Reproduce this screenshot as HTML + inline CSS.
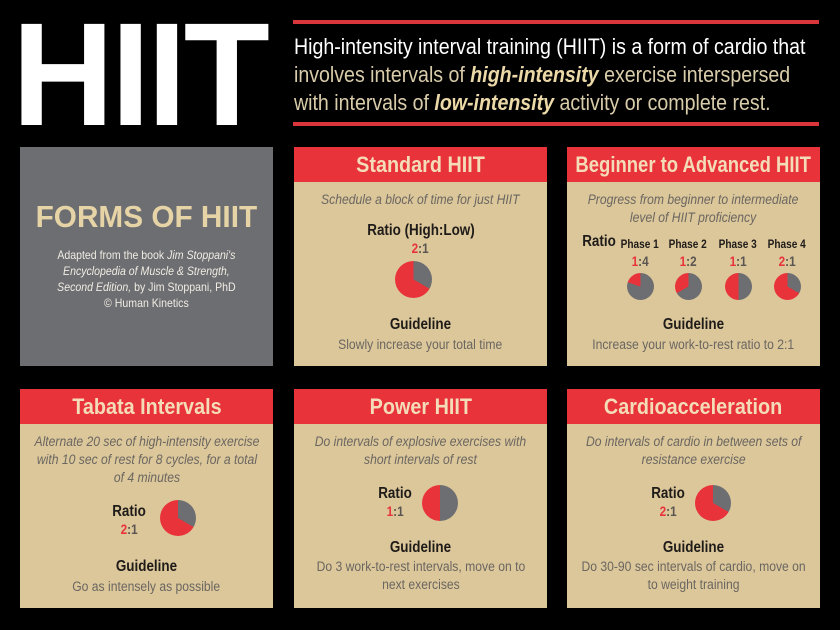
<!DOCTYPE html>
<html><head><meta charset="utf-8"><style>
body{margin:0;background:#000;width:840px;height:630px;overflow:hidden;position:relative;font-family:"Liberation Sans",sans-serif}
.a{position:absolute}
.n{display:inline-block;transform:scaleX(.84);white-space:nowrap}
.w{display:inline-block;transform:scaleX(.9);white-space:nowrap}
.big{left:12px;top:2px;font-size:147px;font-weight:bold;color:#fff;transform:scaleX(.96);transform-origin:left top;line-height:147px;white-space:nowrap;letter-spacing:-3px}
.rl{left:293px;width:526px;height:4px;background:#d8363b}
.intro{left:294px;top:33px;font-size:22px;line-height:28px;color:#d9ccaa;white-space:nowrap;transform:scaleX(.89);transform-origin:left top}
.intro b{font-style:italic;color:#ecd9a8}
.p{position:absolute;width:253px;height:219px;background:#dcc79b;text-align:center;color:#222}
.h{height:35px;background:#e8333a;color:#f4dcb8;font-weight:bold;font-size:22px;line-height:35px;display:flex;justify-content:center;white-space:nowrap}
.h .n{transform:scaleX(.9);flex:none}
.d{font-style:italic;color:#6a6660;font-size:13.5px;line-height:18px}
.g{color:#6a6660;font-size:13.5px;line-height:18px}
.lab{font-size:16px;font-weight:bold;color:#1e1b18}
.r{color:#e8333a}
.pie{position:absolute;border-radius:50%}
.ph{position:absolute;font-size:12px;font-weight:bold;color:#1e1b18;width:50px;text-align:center}
.pr{position:absolute;font-size:14px;color:#5a5550;width:50px;text-align:center;font-weight:bold}
</style></head><body>
<div class="a big">HIIT</div>
<div class="a rl" style="top:20px"></div>
<div class="a rl" style="top:122px"></div>
<div class="a intro"><span style="color:#fff">High-intensity interval training (HIIT) is a form of cardio that</span><br>involves intervals of <b>high-intensity</b> exercise interspersed<br>with intervals of <b>low-intensity</b> activity or complete rest.</div>

<div class="p" style="left:20px;top:147px;background:#6d6e71;color:#fff">
<div style="margin-top:52px;font-size:31px;font-weight:bold;color:#e6d4a6"><span class="n" style="transform:scaleX(.96)">FORMS OF HIIT</span></div>
<div style="margin-top:12px;font-size:12px;line-height:16px;color:#f0ece4"><span class="n" style="transform:scaleX(.88)">Adapted from the book <i>Jim Stoppani's<br>Encyclopedia of Muscle &amp; Strength,<br>Second Edition,</i> by Jim Stoppani, PhD<br>© Human Kinetics</span></div>
</div>

<div class="p" style="left:294px;top:147px">
<div class="h"><span class="n">Standard HIIT</span></div>
<div class="d" style="margin-top:9px"><span class="w">Schedule a block of time for just HIIT</span></div>
<div class="lab" style="margin-top:13px"><span class="n">Ratio (High:Low)</span></div>
<div class="lab" style="font-size:14px;color:#5a5550"><span class="n"><span class="r">2</span>:1</span></div>
<div class="pie" style="left:101px;top:114px;width:37px;height:37px;background:conic-gradient(#6d6e71 0 120deg,#e8333a 120deg 360deg)"></div>
<div class="lab" style="position:absolute;top:169px;width:100%"><span class="n">Guideline</span></div>
<div class="g" style="position:absolute;top:189px;width:100%"><span class="w">Slowly increase your total time</span></div>
</div>

<div class="p" style="left:567px;top:147px">
<div class="h"><span class="n" style="transform:scaleX(.84)">Beginner to Advanced HIIT</span></div>
<div class="d" style="margin-top:9px"><span class="w">Progress from beginner to intermediate<br>level of HIIT proficiency</span></div>
<div class="lab a" style="left:12px;top:86px"><span class="n">Ratio</span></div>
<div class="ph" style="left:48px;top:90px"><span class="n">Phase 1</span></div>
<div class="ph" style="left:96px;top:90px"><span class="n">Phase 2</span></div>
<div class="ph" style="left:146px;top:90px"><span class="n">Phase 3</span></div>
<div class="ph" style="left:195px;top:90px"><span class="n">Phase 4</span></div>
<div class="pr" style="left:48px;top:106px"><span class="n"><span class="r">1</span>:4</span></div>
<div class="pr" style="left:96px;top:106px"><span class="n"><span class="r">1</span>:2</span></div>
<div class="pr" style="left:146px;top:106px"><span class="n"><span class="r">1</span>:1</span></div>
<div class="pr" style="left:195px;top:106px"><span class="n"><span class="r">2</span>:1</span></div>
<div class="pie" style="left:60px;top:126px;width:27px;height:27px;background:conic-gradient(#6d6e71 0 288deg,#e8333a 288deg 360deg)"></div>
<div class="pie" style="left:108px;top:126px;width:27px;height:27px;background:conic-gradient(#6d6e71 0 240deg,#e8333a 240deg 360deg)"></div>
<div class="pie" style="left:158px;top:126px;width:27px;height:27px;background:conic-gradient(#6d6e71 0 180deg,#e8333a 180deg 360deg)"></div>
<div class="pie" style="left:207px;top:126px;width:27px;height:27px;background:conic-gradient(#6d6e71 0 120deg,#e8333a 120deg 360deg)"></div>
<div class="lab" style="position:absolute;top:169px;width:100%"><span class="n">Guideline</span></div>
<div class="g" style="position:absolute;top:189px;width:100%"><span class="w">Increase your work-to-rest ratio to 2:1</span></div>
</div>

<div class="p" style="left:20px;top:389px">
<div class="h"><span class="n">Tabata Intervals</span></div>
<div class="d" style="margin-top:9px"><span class="w">Alternate 20 sec of high-intensity exercise<br>with 10 sec of rest for 8 cycles, for a total<br>of 4 minutes</span></div>
<div class="lab a" style="left:84px;top:114px;width:50px"><span class="n">Ratio</span></div>
<div class="pr" style="left:84px;top:132px"><span class="n"><span class="r">2</span>:1</span></div>
<div class="pie" style="left:140px;top:111px;width:36px;height:36px;background:conic-gradient(#6d6e71 0 120deg,#e8333a 120deg 360deg)"></div>
<div class="lab" style="position:absolute;top:169px;width:100%"><span class="n">Guideline</span></div>
<div class="g" style="position:absolute;top:189px;width:100%"><span class="w">Go as intensely as possible</span></div>
</div>

<div class="p" style="left:294px;top:389px">
<div class="h"><span class="n">Power HIIT</span></div>
<div class="d" style="margin-top:9px"><span class="w">Do intervals of explosive exercises with<br>short intervals of rest</span></div>
<div class="lab a" style="left:76px;top:96px;width:50px"><span class="n">Ratio</span></div>
<div class="pr" style="left:76px;top:114px"><span class="n"><span class="r">1</span>:1</span></div>
<div class="pie" style="left:128px;top:96px;width:36px;height:36px;background:conic-gradient(#6d6e71 0 180deg,#e8333a 180deg 360deg)"></div>
<div class="lab" style="position:absolute;top:150px;width:100%"><span class="n">Guideline</span></div>
<div class="g" style="position:absolute;top:169px;width:100%"><span class="w">Do 3 work-to-rest intervals, move on to<br>next exercises</span></div>
</div>

<div class="p" style="left:567px;top:389px">
<div class="h"><span class="n">Cardioacceleration</span></div>
<div class="d" style="margin-top:9px"><span class="w">Do intervals of cardio in between sets of<br>resistance exercise</span></div>
<div class="lab a" style="left:76px;top:96px;width:50px"><span class="n">Ratio</span></div>
<div class="pr" style="left:76px;top:114px"><span class="n"><span class="r">2</span>:1</span></div>
<div class="pie" style="left:128px;top:96px;width:36px;height:36px;background:conic-gradient(#6d6e71 0 120deg,#e8333a 120deg 360deg)"></div>
<div class="lab" style="position:absolute;top:150px;width:100%"><span class="n">Guideline</span></div>
<div class="g" style="position:absolute;top:169px;width:100%"><span class="w">Do 30-90 sec intervals of cardio, move on<br>to weight training</span></div>
</div>
</body></html>
